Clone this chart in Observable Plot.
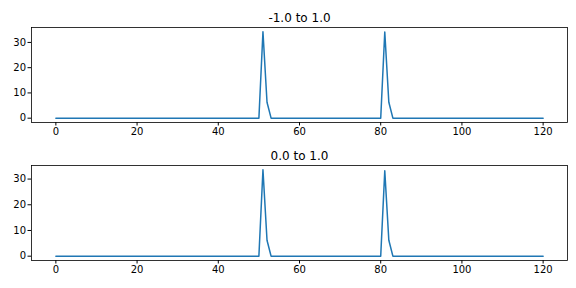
<!DOCTYPE html>
<html>
<head>
<meta charset="utf-8">
<script src="https://cdn.jsdelivr.net/npm/d3@7"></script>
<script src="https://cdn.jsdelivr.net/npm/@observablehq/plot@0.6"></script>
<style>
  html, body { margin: 0; padding: 0; background: #fff; }
  #chart { width: 576px; height: 288px; }
  #chart svg { display: block; }
</style>
</head>
<body>
<div id="chart"></div>
<script>
// Polyline vertices (value is 0 everywhere else)
const xTop = [0, 50, 51, 52, 53, 80, 81, 82, 83, 120];
const yTop = [0, 0, 34.2, 6.3, 0, 0, 34.1, 6.3, 0, 0];
const xBottom = [0, 50, 51, 52, 53, 80, 81, 82, 83, 120];
const yBottom = [0, 0, 33.6, 6.2, 0, 0, 33.2, 6.2, 0, 0];
const titles = ["-1.0 to 1.0", "0.0 to 1.0"];
const xTicks = [0, 20, 40, 60, 80, 100, 120];
const yTicks = [0, 10, 20, 30];

function panel(xs, ys, title, marginTop, marginBottom) {
  const data = xs.map((x, i) => ({x, y: ys[i]}));
  const M = d3.max(ys);
  return Plot.plot({
    width: 576,
    height: 144,
    marginLeft: 31,
    marginRight: 9,
    marginTop,
    marginBottom,
    style: {fontFamily: "DejaVu Sans", fontSize: "10px", color: "#000", background: "#fff"},
    x: {domain: [-6, 126]},
    y: {domain: [-0.05 * M, 1.05 * M]},
    marks: [
      Plot.axisX({ticks: xTicks, tickSize: 3.5, tickPadding: 2, label: null, fontSize: 10}),
      Plot.axisY({ticks: yTicks, tickSize: 3.5, tickPadding: 2, label: null, fontSize: 10}),
      Plot.line(data, {x: "x", y: "y", stroke: "#1f77b4", strokeWidth: 1.5}),
      Plot.frame({stroke: "#000", strokeWidth: 0.8}),
      Plot.text([title], {frameAnchor: "top", lineAnchor: "bottom", dy: -6, fontSize: 12, fill: "#000"})
    ]
  });
}

const el = document.getElementById("chart");
el.append(panel(xTop, yTop, titles[0], 27, 22));
el.append(panel(xBottom, yBottom, titles[1], 21, 28));
</script>
</body>
</html>
